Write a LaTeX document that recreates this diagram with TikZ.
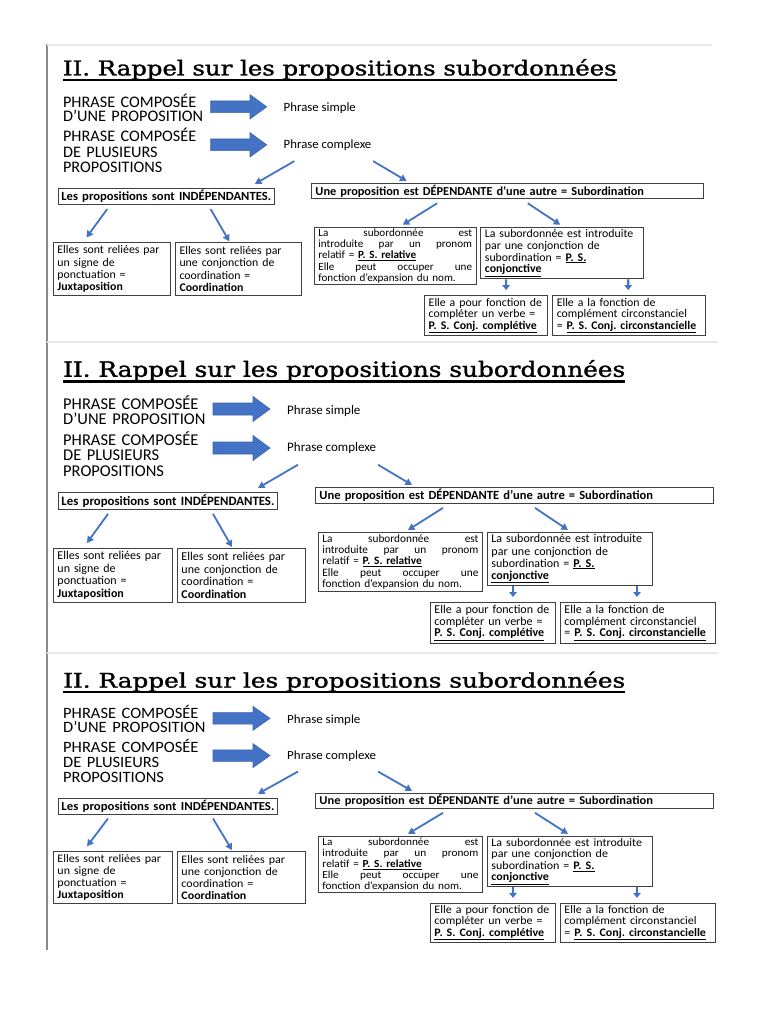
\documentclass[tikz,border=0pt]{standalone}
\usepackage{fontspec}
\usepackage{graphicx}
\setmainfont{Carlito}
\newfontfamily\titlefont{DejaVu Serif}[FakeBold=1.3]
\usetikzlibrary{arrows.meta}
\frenchspacing
\definecolor{ablue}{HTML}{4472C4}
\definecolor{aborder}{HTML}{3A64B0}
\definecolor{boxline}{HTML}{404040}
\definecolor{sepgray}{HTML}{E8E8E8}
\definecolor{leftline}{HTML}{8A8A8A}
\newcommand\capsA{\fontsize{16.5}{14.7}\selectfont}
\newcommand\capsB{\fontsize{16.5}{15.5}\selectfont}
\newcommand\bul[1]{\underline{\textbf{#1}}}
\newcommand\blockarr[2]{%
  \coordinate (#1) at (213,#2);
  \filldraw[blockarrow] (#1) ++(0,-6) -- ++(40,0) -- ++(0,-6.5) -- ++(17,12.5) -- ++(-17,12.5) -- ++(0,-6.5) -- ++(-40,0) -- cycle;}
\newcommand\drawcopy{%
  \node[titlenode] (title) at (63,26.8) {\resizebox{562pt}{\height}{\titlefont\fontsize{21}{25}\selectfont II. Rappel sur les propositions subordonnées}};
  \draw[line width=2.2pt] ([yshift=-4.6pt]title.base west) -- ([yshift=-4.6pt]title.base east);
  \node[caps, font=\capsA] (p1) at (63,59.3) {PHRASE COMPOSÉE\\D’UNE PROPOSITION};
  \node[caps, font=\capsB] (p2) at (63,95) {PHRASE COMPOSÉE\\DE PLUSIEURS\\PROPOSITIONS};
  \node[plain] (s1) at (287,64) {Phrase simple};
  \node[plain] (s2) at (287,101.7) {Phrase complexe};
  \blockarr{a1}{59}
  \blockarr{a2}{98}
  \node[box, minimum height=17pt, inner xsep=3pt, text width=213pt, font=\bfseries\fontsize{12.8}{14}\selectfont] (ind) at (58,142) {Les propositions sont INDÉPENDANTES.};
  \node[box, minimum height=16pt, text width=390pt, font=\bfseries\fontsize{12.5}{14}\selectfont] (dep) at (315,137) {Une proposition est DÉPENDANTE d’une autre = Subordination};
  \node[box, minimum height=54pt, text width=111pt, font=\fontsize{12}{12.6}\selectfont] (jux) at (53,198) {Elles sont reliées par\\un signe de\\ponctuation =\\\textbf{Juxtaposition}};
  \node[box, minimum height=54pt, text width=120pt, font=\fontsize{12}{12.6}\selectfont] (coord) at (177,198) {Elles sont reliées par\\une conjonction de\\coordination =\\\textbf{Coordination}};
  \node[box, minimum height=59pt, inner ysep=1pt, text width=156pt, font=\fontsize{11.3}{11.4}\selectfont] (rel) at (318,182) {La\hfill subordonnée\hfill est\\introduite\hfill par\hfill un\hfill pronom\\relatif = \bul{P. S. relative}\\Elle\hfill peut\hfill occuper\hfill une\\fonction d’expansion du nom.};
  \node[box, minimum height=53pt, text width=157pt, font=\fontsize{12}{12.1}\selectfont] (conj) at (487,182) {La subordonnée est introduite\\par une conjonction de\\subordination = \bul{P. S.}\\\bul{conjonctive}};
  \node[box, minimum height=41pt, inner ysep=1pt, text width=117pt, font=\fontsize{12}{11.8}\selectfont] (comp) at (430,252) {Elle a pour fonction de\\compléter un verbe =\\\bul{P. S. Conj. complétive}};
  \node[box, minimum height=41pt, inner ysep=1pt, text width=147pt, font=\fontsize{12}{11.8}\selectfont] (circ) at (560,252) {Elle a la fonction de\\complément circonstanciel\\= \bul{P. S. Conj. circonstancielle}};
  \draw[thinarr] ([shift={(11,13)}]s2.base west) -- ([shift={(200,-4)}]ind.north west);
  \draw[thinarr] ([shift={(91,13)}]s2.base west) -- ([shift={(97,-2)}]dep.north west);
  \draw[thinarr] ([shift={(50,4)}]ind.south west) -- ([shift={(34,-5)}]jux.north west);
  \draw[thinarr] ([shift={(155,4)}]ind.south west) -- ([shift={(55,-1)}]coord.north west);
  \draw[thinarr] ([shift={(128,4)}]dep.south west) -- ([shift={(90,-2)}]rel.north west);
  \draw[thinarr] ([shift={(220,4)}]dep.south west) -- ([shift={(81,-2)}]conj.north west);
  \draw[downarr] ([shift={(26,0)}]conj.south west) -- ([shift={(83,-5)}]comp.north west);
  \draw[downarr] ([shift={(150,0)}]conj.south west) -- ([shift={(77,-5)}]circ.north west);
}
\begin{document}
\begin{tikzpicture}[x=1pt,y=-1pt,
  titlenode/.style={anchor=base west, inner sep=0pt},
  caps/.style={anchor=base west, inner sep=0pt, text width=175pt, align=left},
  plain/.style={anchor=base west, inner sep=0pt, font=\fontsize{13}{15}\selectfont},
  box/.style={draw=boxline, line width=0.9pt, anchor=north west, inner xsep=4pt, inner ysep=1.5pt, align=left},
  thinarr/.style={draw=ablue, line width=1.8pt, -{Triangle[width=7pt,length=6.5pt]}},
  downarr/.style={draw=ablue, line width=2.2pt, -{Triangle[width=7.5pt,length=5pt]}},
  blockarrow/.style={fill=ablue, draw=aborder, line width=0.6pt}]
\fill[white] (0,0) rectangle (768,1024);
\useasboundingbox (0,0) rectangle (768,1024);
\draw[leftline, line width=2pt] (46.5,44) -- (46.5,950);
\draw[sepgray, line width=1.2pt] (47,45) -- (712,45);
\draw[sepgray, line width=1.5pt] (47,342) -- (718,342);
\draw[sepgray, line width=1.5pt] (47,653) -- (718,653);
\begin{scope}[shift={(0.8,49.3)}, xscale=0.985, yscale=0.975, transform shape, name prefix=c1-]
  \drawcopy
\end{scope}
\begin{scope}[shift={(0,350)}, name prefix=c2-]
  \drawcopy
\end{scope}
\begin{scope}[shift={(0,662)}, yscale=0.955, transform shape, name prefix=c3-]
  \drawcopy
\end{scope}
\end{tikzpicture}
\end{document}
